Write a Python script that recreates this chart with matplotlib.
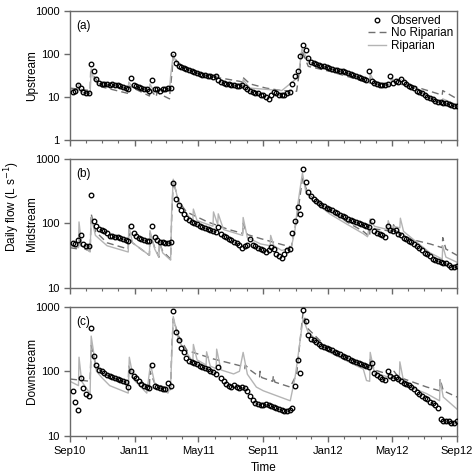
import numpy as np
import matplotlib
matplotlib.use('Agg')
import matplotlib.pyplot as plt
import matplotlib.dates as mdates
from matplotlib.ticker import FixedLocator, FixedFormatter, NullLocator

plt.rcParams['font.family'] = ['Liberation Sans', 'DejaVu Sans']

START = np.datetime64('2010-09-01')
OBS_STEP = 5  # observed values read every 5 days

# ---- (a) upstream ----
a_obs = [np.nan, 13, 14, 19, 16, 13, 12, 12, 57, 40,
         26, 21, 20, 20, 20, 19, 20, 19, 19, 18,
         17, 16, 15, 27, 19, 18, 17, 16, 15, 15,
         14, 25, 15, 15, 14, 15, 15, 16, 16, 100,
         62, 52, 50, 48, 45, 42, 40, 38, 36, 34,
         33, 32, 31, 30, 29, 30, 24, 22, 21, 20,
         20, 19, 19, 18, 18, 19, 17, 15, 14, 13,
         12, 12, 11, 11, 10, 9, 11, 13, 12, 11,
         11, 11, 12, 13, 20, 30, 40, 90, 160, 120,
         80, 66, 61, 58, 55, 53, 51, 49, 47, 45,
         43, 41, 40, 39, 37, 35, 34, 32, 31, 29,
         27, 26, 24, 40, 23, 21, 20, 19, 19, 19,
         20, 30, 21, 23, 22, 26, 22, 20, 18, 17,
         16, 14, 13, 12, 11, 10, 9.3, 8.8, 8.2, 7.8,
         7.5, 7.2, 7.1, 6.8, 6.5, 6.2, 6.0]
a_norip_day = [0, 38, 39, 60, 110, 111, 150, 151, 163, 164, 188, 189, 193, 195, 205,
               240, 280, 320, 326, 327, 340, 370, 400, 428, 432, 438, 450, 491, 523, 554,
               566, 567, 580, 606, 607, 620, 650, 680, 703, 704, 731]
a_norip_val = [16, 14, 38, 17, 12, 18, 10.5, 15, 10, 12.6, 9, 14, 40, 95, 55,
               36, 28, 23, 22, 28, 20, 16, 14, 13.5, 30, 120, 51, 39, 30, 23,
               21, 28, 22, 19, 26, 20, 17.5, 13.5, 11, 14, 9]
a_rip_day = [0, 15, 16, 20, 38, 40, 45, 55, 110, 111, 118, 150, 151, 158, 188,
             190, 195, 200, 240, 275, 276, 290, 326, 327, 340, 400, 425, 432, 438, 445,
             455, 491, 523, 554, 566, 567, 575, 606, 607, 615, 624, 640, 680, 703, 704, 731]
a_rip_val = [15, 14, 20, 13, 12, 45, 25, 20, 15, 22, 17, 13, 20, 14, 14,
             30, 95, 65, 36, 30, 33, 22, 19, 25, 16, 14, 25, 35, 130, 90,
             62, 45, 34, 25, 22, 35, 21, 19, 28, 22, 26, 19, 10, 7.5, 9, 6.5]

# ---- (b) midstream ----
b_obs = [np.nan, 50, 48, 55, 65, 48, 45, 45, 270, 110,
         90, 82, 80, 77, 70, 63, 63, 62, 61, 60,
         58, 56, 54, 92, 72, 64, 60, 57, 55, 54,
         53, 90, 62, 55, 52, 51, 50, 50, 51, 420,
         240, 190, 160, 140, 120, 112, 105, 100, 96, 92,
         88, 85, 82, 79, 76, 74, 87, 68, 64, 61,
         58, 55, 52, 50, 47, 42, 44, 46, 57, 46,
         44, 42, 40, 38, 36, 38, 43, 40, 34, 31,
         29, 33, 38, 40, 70, 110, 180, 140, 700, 430,
         300, 260, 237, 220, 205, 193, 182, 174, 166, 158,
         150, 142, 134, 128, 123, 118, 113, 108, 104, 100,
         97, 95, 92, 88, 110, 76, 72, 68, 65, 62,
         90, 80, 75, 78, 68, 65, 60, 57, 54, 51,
         48, 45, 42, 38, 35, 33, 31, 28, 27, 26,
         25, 24, 24, 23, 21, 21, 22]
b_norip_day = [0, 16, 17, 22, 38, 40, 48, 70, 110, 111, 118, 150, 151, 160, 168,
               169, 175, 190, 192, 195, 205, 220, 260, 300, 326, 327, 335, 360, 400, 418,
               430, 439, 450, 491, 523, 554, 566, 567, 575, 610, 611, 620, 650, 680, 703,
               704, 710, 731]
b_norip_val = [42, 40, 60, 42, 37, 140, 75, 50, 40, 70, 50, 32, 70, 42, 30,
               50, 37, 28, 120, 450, 220, 150, 105, 80, 70, 100, 67, 58, 47, 43,
               140, 500, 280, 160, 105, 75, 62, 110, 82, 75, 95, 70, 55, 48, 42,
               60, 40, 32]
b_rip_day = [0, 16, 17, 22, 38, 40, 48, 70, 110, 111, 118, 150, 151, 160, 168,
             169, 175, 190, 192, 195, 205, 220, 232, 233, 240, 270, 271, 279, 280, 290,
             326, 327, 335, 360, 378, 379, 385, 400, 418, 425, 430, 439, 445, 460, 491,
             523, 554, 562, 567, 575, 600, 601, 608, 611, 623, 624, 630, 650, 680, 703,
             704, 710, 731]
b_rip_val = [45, 42, 105, 45, 36, 125, 65, 45, 36, 92, 50, 32, 77, 40, 30,
             51, 35, 27, 150, 480, 210, 140, 110, 166, 110, 90, 150, 95, 140, 80,
             65, 123, 60, 48, 45, 65, 45, 38, 42, 80, 190, 600, 320, 220, 139,
             97, 69, 62, 117, 90, 80, 110, 75, 90, 85, 120, 75, 55, 35, 28,
             45, 30, 25]

# ---- (c) downstream ----
c_obs = [np.nan, 50, 34, 25, 80, 55, 45, 42, 460, 170,
         127, 105, 100, 95, 88, 85, 82, 80, 77, 74,
         72, 68, 58, 102, 85, 78, 70, 64, 60, 57,
         55, 127, 60, 57, 55, 54, 53, 66, 60, 850,
         400, 300, 230, 197, 160, 146, 140, 136, 130, 122,
         118, 112, 108, 102, 96, 90, 115, 78, 70, 64,
         60, 58, 62, 57, 56, 58, 56, 50, 42, 36,
         32, 31, 30, 30, 31, 30, 29, 28, 27, 26,
         25, 24, 24, 25, 27, 60, 150, 95, 900, 600,
         360, 320, 300, 280, 265, 250, 238, 228, 220, 210,
         200, 190, 182, 174, 166, 158, 151, 145, 139, 134,
         130, 126, 120, 115, 136, 94, 88, 82, 77, 73,
         102, 84, 80, 82, 76, 70, 66, 64, 61, 58,
         53, 48, 45, 42, 39, 37, 34, 32, 30, 27,
         18, 17, 17, 17, 16, 16, 17]
c_norip_day = [0, 38, 40, 48, 60, 110, 111, 118, 150, 151, 160, 190, 192, 195, 205,
               221, 271, 321, 330, 331, 340, 358, 359, 362, 383, 384, 387, 416, 428, 440,
               450, 491, 554, 566, 567, 575, 611, 612, 620, 674, 698, 699, 705, 731]
c_norip_val = [76, 70, 250, 130, 95, 62, 120, 80, 56, 100, 65, 52, 200, 650, 350,
               210, 155, 122, 110, 125, 105, 82, 100, 80, 70, 85, 68, 57, 90, 800,
               450, 210, 125, 110, 160, 105, 85, 100, 82, 57, 50, 76, 50, 40]
c_rip_day = [0, 16, 17, 22, 38, 40, 50, 60, 75, 110, 112, 120, 145, 152, 160,
             185, 190, 195, 205, 221, 232, 233, 240, 257, 258, 265, 276, 277, 285, 309,
             320, 327, 335, 352, 365, 416, 425, 430, 440, 450, 491, 554, 560, 566, 567,
             575, 622, 623, 630, 643, 674, 698, 699, 705, 731]
c_rip_val = [70, 60, 165, 70, 45, 350, 100, 80, 60, 46, 165, 75, 46, 130, 65,
             46, 60, 700, 300, 190, 140, 260, 150, 125, 200, 120, 110, 220, 105, 91,
             100, 196, 90, 57, 50, 35, 80, 155, 650, 400, 195, 108, 72, 70, 196,
             95, 72, 140, 70, 57, 45, 35, 73, 40, 26]

panels = [
    ('Upstream', '(a)', a_obs, a_norip_day, a_norip_val, a_rip_day, a_rip_val, (1, 1000), [1, 10, 100, 1000]),
    ('Midstream', '(b)', b_obs, b_norip_day, b_norip_val, b_rip_day, b_rip_val, (10, 1000), [10, 100, 1000]),
    ('Downstream', '(c)', c_obs, c_norip_day, c_norip_val, c_rip_day, c_rip_val, (10, 1000), [10, 100, 1000]),
]


def to_dates(days):
    return START + np.array(days).astype('timedelta64[D]')


fig = plt.figure(figsize=(4.74, 4.74), dpi=100)
bottoms = [0.7046, 0.3924, 0.0802]
axes = []
frame_col = '#6a6a6a'

for (name, tag, obs, nd, nv, rd, rv, ylim, yt), bot in zip(panels, bottoms):
    ax = fig.add_axes([0.1477, bot, 0.8165, 0.273])
    axes.append(ax)
    ax.plot(to_dates(nd), nv, color='#707070', lw=1.0, dashes=(5, 3), label='No Riparian', zorder=2)
    ax.plot(to_dates(rd), rv, color='#b4b4b4', lw=1.0, label='Riparian', zorder=2)
    obs_days = np.arange(len(obs)) * OBS_STEP
    ax.plot(to_dates(obs_days), obs, 'o', ms=3.3, mfc='none', mec='black', mew=0.95,
            label='Observed', zorder=3)
    ax.set_yscale('log')
    ax.set_ylim(*ylim)
    ax.yaxis.set_major_locator(FixedLocator(yt))
    ax.yaxis.set_major_formatter(FixedFormatter([str(v) for v in yt]))
    ax.yaxis.set_minor_locator(NullLocator())
    ax.set_xlim(np.datetime64('2010-09-01'), np.datetime64('2012-09-01'))
    ax.xaxis.set_major_locator(mdates.MonthLocator(bymonth=[1, 5, 9]))
    ax.xaxis.set_minor_locator(mdates.MonthLocator())
    ax.xaxis.set_major_formatter(mdates.DateFormatter('%b%y'))
    ax.tick_params(which='both', direction='out', color=frame_col, labelsize=8)
    ax.tick_params(which='major', length=4, width=1)
    ax.tick_params(which='minor', length=2, width=0.8)
    ax.tick_params(labelbottom=False)
    for s in ax.spines.values():
        s.set_color(frame_col)
        s.set_linewidth(1.0)
    ax.set_ylabel(name, fontsize=8.5)
    ax.yaxis.set_label_coords(-0.083, 0.5)
    ax.text(0.017, 0.93, tag, transform=ax.transAxes, fontsize=8.5, va='top')

axes[-1].tick_params(labelbottom=True)
axes[-1].set_xlabel('Time', fontsize=8.5, labelpad=4)

h, l = axes[0].get_legend_handles_labels()
order = [2, 0, 1]
axes[0].legend([h[i] for i in order], [l[i] for i in order], loc='upper right',
               frameon=False, fontsize=8.5, handlelength=1.5, handletextpad=0.4,
               labelspacing=0.05, borderaxespad=0.15, borderpad=0.2)

fig.text(0.025, 0.565, r'Daily flow (L s$^{-1}$)', rotation=90, fontsize=8.5,
         ha='center', va='center')

fig.savefig('out.png', dpi=100)
